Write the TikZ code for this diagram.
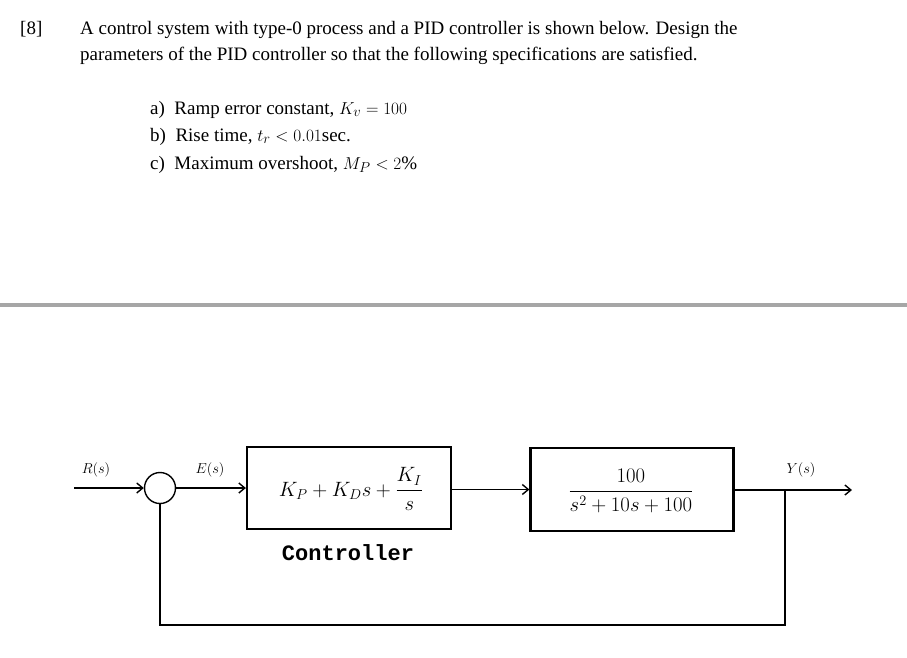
\documentclass[tikz,border=0pt]{standalone}
\usepackage{amsmath}
\usepackage{fontspec}
\setmainfont{Liberation Serif}
\newfontfamily\cmono{Liberation Mono}
\usetikzlibrary{arrows.meta}
\begin{document}
\begin{tikzpicture}[x=1pt,y=-1pt,
  txt/.style={anchor=base west,inner sep=0pt,font=\fontsize{19}{22}\selectfont},
  blk/.style={draw,line width=2.2pt,inner sep=0pt},
  wire/.style={line width=1.4pt},
  arr/.style={wire,-{Straight Barb[length=6pt,width=10pt,line width=1.4pt]}},
  lab/.style={font=\fontsize{15}{18}\selectfont,inner sep=0pt}]
\useasboundingbox (0,0) rectangle (907,657);
\node[txt] (n8) at (20,34) {[8]};
\node[txt] (l1) at (80,34) {A control system with type-0 process and a PID controller is shown below. Design the};
\node[txt] (l2) at (80,60) {parameters of the PID controller so that the following specifications are satisfied.};
\node[txt] (a) at (150,114) {a)\ \ Ramp error constant, $K_v=100$};
\node[txt] (b) at (150,141) {b)\ \ Rise time, $t_r<0.01$sec.};
\node[txt] (c) at (150,169) {c)\ \ Maximum overshoot, $M_P<2\%$};
\draw[line width=4pt,gray!70] (0,305) -- (907,305);
\node[draw,circle,line width=1.4pt,minimum size=31pt,inner sep=0pt] (sum) at (160,488) {};
\node[blk,minimum width=204pt,minimum height=82pt] (ctl) at (349,488) {};
\node[inner sep=0pt,font=\fontsize{21}{24}\selectfont] (ctlt) at (351,489) {$K_P+K_Ds+\dfrac{K_I}{s}$};
\node[inner sep=0pt,font=\cmono\bfseries\fontsize{22}{24}\selectfont] (ctll) at (348,553) {Controller};
\node[blk,minimum width=203pt,minimum height=83pt] (pl) at (632,489.5) {};
\node[inner sep=0pt,font=\fontsize{21}{24}\selectfont] (plt) at (631,491) {$\dfrac{100}{s^2+10s+100}$};
\coordinate (in) at (74,488);
\coordinate (br) at (785,490);
\coordinate (out) at (852,490);
\coordinate (fb1) at (785,625);
\coordinate (fb2) at (160,625);
\draw[arr] (in) -- (sum);
\draw[arr] (sum) -- (ctl.west |- sum);
\draw[arr] (ctl.east |- pl) -- (pl.west);
\draw[wire] (pl.east |- br) -- (br);
\draw[arr] (br) -- (out);
\draw[wire] (br) -- (fb1) -- (fb2) -- (sum.south);
\node[lab] (R) at (96,470) {$R(s)$};
\node[lab] (E) at (210,470) {$E(s)$};
\node[lab] (Y) at (801,470) {$Y(s)$};
\end{tikzpicture}
\end{document}
